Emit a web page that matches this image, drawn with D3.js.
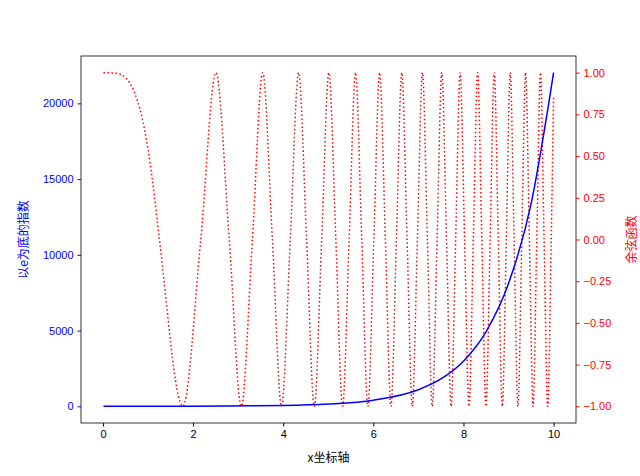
<!DOCTYPE html>
<html><head><meta charset="utf-8">
<script src="https://cdn.jsdelivr.net/npm/d3@7"></script>
<style>body{margin:0;background:#fff}svg{font-family:"Noto Sans CJK SC",sans-serif}</style>
</head><body><svg id="c" width="640" height="476"></svg>
<script>
// blue curve: e^x values
const expX = [0.01, 2, 4, 5, 6, 7, 7.5, 8, 8.5, 9, 9.5, 10];
const expY = [1, 7, 55, 148, 403, 1097, 1808, 2981, 4915, 8103, 13360, 22026];

// red dotted curve: turning points and zero crossings
const cosX = [0.01, 0.3, 0.5, 0.7, 0.85, 1.0, 1.1, 1.253, 1.773, 2.171, 2.507, 2.803, 3.070, 3.316, 3.545, 3.760, 3.963, 4.157, 4.342, 4.519, 4.690, 4.854, 5.013, 5.168, 5.317, 5.463, 5.605, 5.743, 5.879, 6.011, 6.140, 6.267, 6.391, 6.512, 6.632, 6.749, 6.865, 6.978, 7.090, 7.200, 7.308, 7.415, 7.520, 7.624, 7.726, 7.827, 7.927, 8.025, 8.123, 8.219, 8.314, 8.408, 8.500, 8.592, 8.683, 8.773, 8.862, 8.951, 9.038, 9.124, 9.210, 9.295, 9.379, 9.463, 9.545, 9.627, 9.709, 9.789, 9.869, 9.948, 10];
const cosY = [1, 0.996, 0.97, 0.88, 0.75, 0.54, 0.35, 0, -1, 0, 1, 0, -1, 0, 1, 0, -1, 0, 1, 0, -1, 0, 1, 0, -1, 0, 1, 0, -1, 0, 1, 0, -1, 0, 1, 0, -1, 0, 1, 0, -1, 0, 1, 0, -1, 0, 1, 0, -1, 0, 1, 0, -1, 0, 1, 0, -1, 0, 1, 0, -1, 0, 1, 0, -1, 0, 1, 0, -1, 0, 0.86];

const xTicks = [0, 2, 4, 6, 8, 10];
const leftTicks = [0, 5000, 10000, 15000, 20000];
const rightTicks = [-1, -0.75, -0.5, -0.25, 0, 0.25, 0.5, 0.75, 1];

const svg = d3.select("#c");
const L = 81, R = 576, T = 56, B = 423;

const x = d3.scaleLinear().domain([-0.4875, 10.4975]).range([L, R]);
const yL = d3.scaleLinear().domain([-1100, 23127]).range([B, T]);
const yR = d3.scaleLinear().domain([-1.1, 1.1]).range([B, T]);

const line = (xs, ys, sy) => d3.line().curve(d3.curveMonotoneX)
    .x((d, i) => x(xs[i])).y(d => sy(d))(ys);

svg.append("path").attr("d", line(cosX, cosY, yR))
    .attr("fill", "none").attr("stroke", "red").attr("stroke-width", 1.5)
    .attr("stroke-dasharray", "1.5,2.5");
svg.append("path").attr("d", line(expX, expY, yL))
    .attr("fill", "none").attr("stroke", "blue").attr("stroke-width", 1.5);

svg.append("rect").attr("x", L).attr("y", T).attr("width", R - L).attr("height", B - T)
    .attr("fill", "none").attr("stroke", "black").attr("stroke-width", 0.8);

function style(g, color) {
    g.select(".domain").remove();
    g.selectAll("line").attr("stroke", color);
    g.selectAll("text").attr("fill", color).style("font-size", "11px");
}
svg.append("g").attr("transform", `translate(0,${B})`)
    .call(d3.axisBottom(x).tickValues(xTicks).tickSize(3.5).tickPadding(4))
    .call(g => style(g, "black"));
svg.append("g").attr("transform", `translate(${L},0)`)
    .call(d3.axisLeft(yL).tickValues(leftTicks).tickSize(3.5).tickPadding(4).tickFormat(d3.format("d")))
    .call(g => style(g, "blue"));
svg.append("g").attr("transform", `translate(${R},0)`)
    .call(d3.axisRight(yR).tickValues(rightTicks).tickSize(3.5).tickPadding(4).tickFormat(d3.format(".2f")))
    .call(g => style(g, "red"));

svg.append("text").attr("x", (L + R) / 2).attr("y", 462).attr("text-anchor", "middle")
    .style("font-size", "12px").text("x坐标轴");
svg.append("text").attr("transform", `translate(28,${(T + B) / 2}) rotate(-90)`)
    .attr("text-anchor", "middle").attr("fill", "blue").style("font-size", "12px").text("以e为底的指数");
svg.append("text").attr("transform", `translate(636,${(T + B) / 2}) rotate(-90)`)
    .attr("text-anchor", "middle").attr("fill", "red").style("font-size", "12px").text("余弦函数");
</script></body></html>
